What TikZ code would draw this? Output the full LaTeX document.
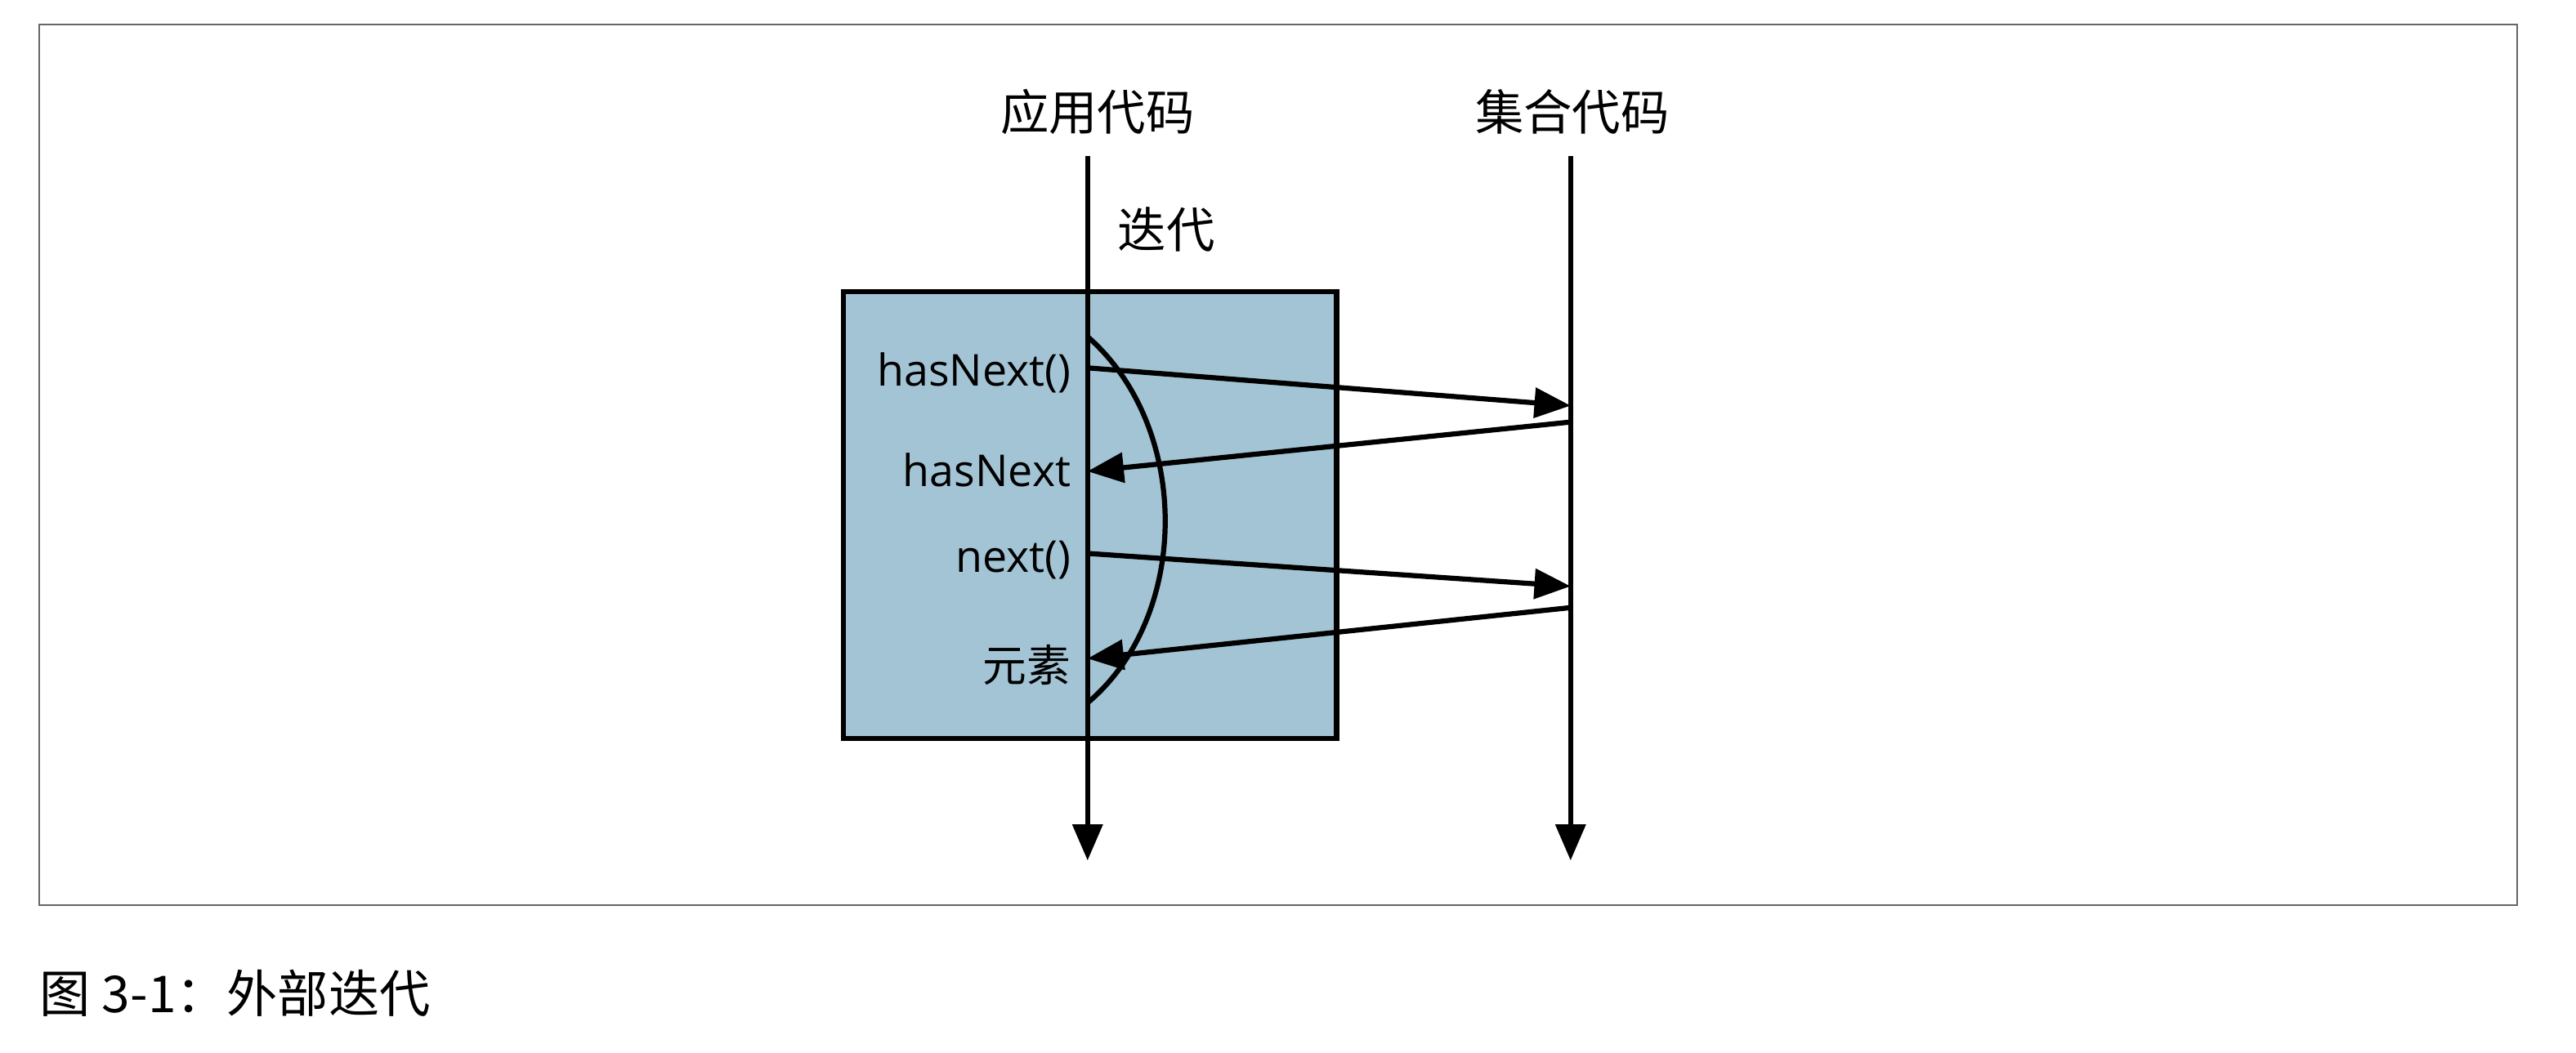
\documentclass[tikz,border=0pt]{standalone}
\usepackage{fontspec}
\setmainfont{Open Sans}
\newfontfamily\cjk{Noto Sans CJK SC}
\usetikzlibrary{arrows.meta}
\tikzset{
 lbl/.style={font=\fontsize{19}{22}\selectfont, anchor=east, inner sep=0},
 ttl/.style={font=\cjk\fontsize{21}{24}\selectfont, inner sep=0},
 ln/.style={line width=2.2pt},
 arr/.style={ln,-{Triangle[length=0.55cm,width=0.45cm]}}
}
\begin{document}
\begin{tikzpicture}[x=0.025cm,y=-0.025cm]
\useasboundingbox (0,0) rectangle (1568,641);
\draw[line width=0.8pt, black!60] (24,15) rectangle (1532,551);
\node[font=\cjk\fontsize{22}{26}\selectfont, anchor=west, inner sep=0] (cap) at (24,605) {图 3-1：外部迭代};
\node[draw, line width=2.2pt, fill={rgb,255:red,163;green,196;blue,212}, minimum width=7.5cm, minimum height=6.8cm, inner sep=0] (box) at (663.5,313.5) {};
\node[ttl] (app) at (668,68) {应用代码};
\node[ttl] (col) at (957,68) {集合代码};
\node[ttl] (it) at (710,140) {迭代};
\coordinate (a0) at (662,95); \coordinate (a1) at (662,524);
\coordinate (b0) at (956,95); \coordinate (b1) at (956,524);
\draw[arr] (a0) -- (a1);
\draw[arr] (b0) -- (b1);
\draw[ln] (662,205) .. controls (725,260) and (725,375) .. (662,428);
\node[lbl] (l1) at (652,227) {hasNext()};
\node[lbl] (l2) at (652,286) {hasNext};
\node[lbl] (l3) at (652,341) {next()};
\node[lbl,font=\cjk\fontsize{19}{22}\selectfont] (l4) at (652,405) {元素};
\coordinate (p1) at (662,224); \coordinate (q1) at (956,247);
\coordinate (q2) at (956,257); \coordinate (p2) at (662,287);
\coordinate (p3) at (662,337); \coordinate (q3) at (956,357);
\coordinate (q4) at (956,370); \coordinate (p4) at (662,401);
\draw[arr] (p1) -- (q1);
\draw[arr] (q2) -- (p2);
\draw[arr] (p3) -- (q3);
\draw[arr] (q4) -- (p4);
\end{tikzpicture}
\end{document}
